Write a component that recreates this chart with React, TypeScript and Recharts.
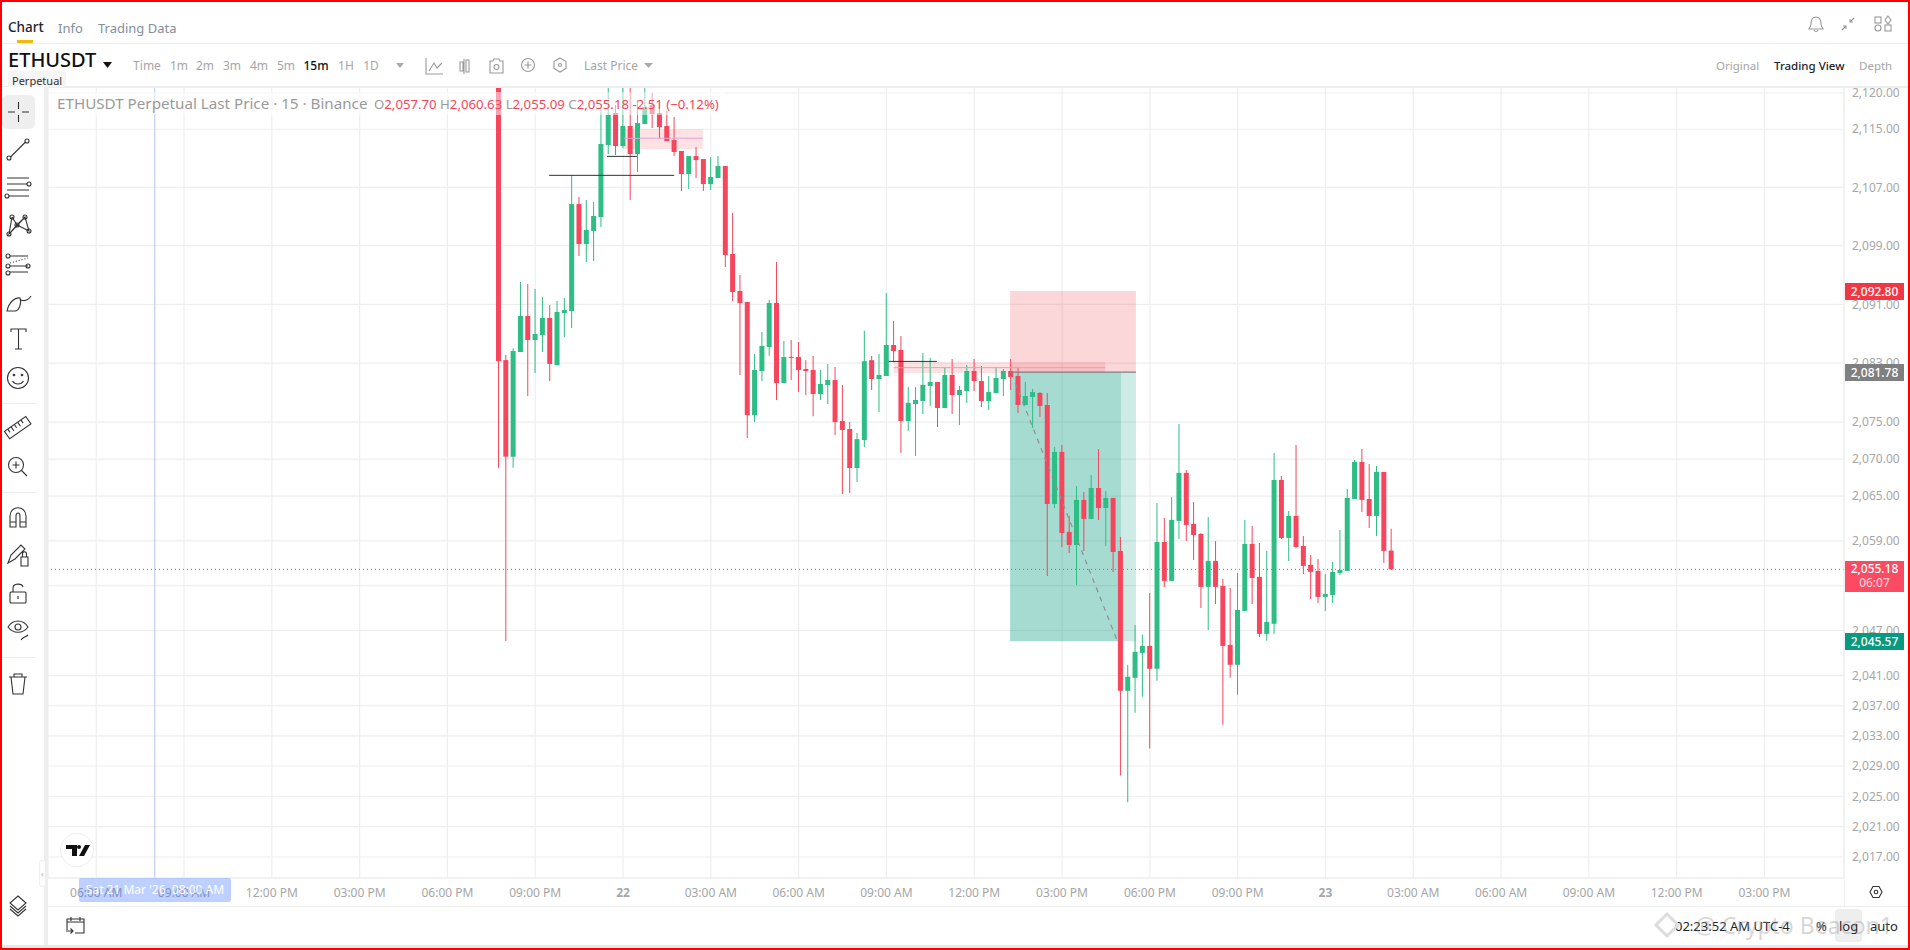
import { ComposedChart, Bar, Cell, XAxis, YAxis, CartesianGrid, ReferenceArea, ReferenceLine } from "recharts";

const UP = "#2ebd85";
const DOWN = "#f6465d";
const FONT = "'Noto Sans', sans-serif";

// 15m candles
const opens = [
  2128, 2083.4, 2070.33, 2084.5, 2089.41, 2086.14, 2086.82, 2089.14, 2082.74, 2089.81,
  2090.08, 2104.7, 2099.23, 2101.02, 2102.93, 2112.82, 2117.24, 2112.68, 2115.44, 2111.58,
  2115.72, 2118.34, 2117.24, 2115.44, 2113.51, 2112, 2108.83, 2111.3, 2110.89, 2107.45,
  2108.28, 2109.93, 2097.87, 2092.81, 2091.32, 2075.94, 2081.93, 2085.18, 2091.18, 2080.3,
  2083.85, 2083.82, 2082.2, 2082.07, 2078.8, 2080.03, 2080.7, 2075.15, 2074.07, 2068.8,
  2072.58, 2083.4, 2080.84, 2081.25, 2085.46, 2084.78, 2075.15, 2077.45, 2077.86, 2079.9,
  2080.43, 2076.91, 2081.39, 2078.67, 2079.21, 2081.93, 2080.57, 2077.86, 2078.94, 2080.84,
  2081.93, 2081.25, 2077.31, 2078.4, 2078.94, 2077.31, 2063.96, 2070.97, 2060.2, 2058.45,
  2064.5, 2061.95, 2066.11, 2063.42, 2064.77, 2057.65, 2038.97, 2040.7, 2044.02, 2044.95,
  2041.9, 2058.85, 2053.63, 2061.68, 2068.14, 2061.28, 2059.93, 2052.83, 2056.31, 2052.96,
  2045.08, 2042.43, 2049.62, 2058.59, 2054.17, 2046.55, 2047.89, 2067.2, 2059.39, 2062.35,
  2058.32, 2055.77, 2054.97, 2051.49, 2051.75, 2054.7, 2054.97, 2064.63, 2069.62, 2064.63,
  2062.35, 2068.27, 2057.7,
];
const highs = [
  2130, 2084.1, 2085, 2094.04, 2093.77, 2093.09, 2091.99, 2090.91, 2091.45, 2091.86,
  2108.7, 2105.67, 2105.26, 2104.98, 2117.93, 2122, 2118.34, 2122, 2122, 2119.03,
  2121, 2120, 2119.03, 2117.51, 2116.68, 2112, 2111.3, 2112.55, 2110.89, 2111.16,
  2111.3, 2109.93, 2103.48, 2095, 2091.32, 2084.23, 2087.24, 2091.59, 2096.77, 2086,
  2086.14, 2085.87, 2083.4, 2083.96, 2082.07, 2082.88, 2082.47, 2080.03, 2075, 2073.53,
  2087.38, 2083.96, 2084.23, 2092.54, 2088.73, 2086.69, 2079.75, 2079.75, 2084.37, 2083.7,
  2080.43, 2082.34, 2083.55, 2079.9, 2082.74, 2083.55, 2082.61, 2081.25, 2082.47, 2082.2,
  2083.55, 2082.47, 2080.43, 2079.48, 2079.07, 2078.94, 2071.64, 2071.91, 2062.35, 2066.38,
  2065.58, 2067.87, 2071.37, 2065.71, 2064.77, 2059.52, 2042.43, 2047.75, 2046.42, 2052.02,
  2064.1, 2062.08, 2064.9, 2074.73, 2068.54, 2064.23, 2060.06, 2062.22, 2058.99, 2053.9,
  2052.69, 2054.7, 2061.81, 2061, 2058.72, 2057.65, 2070.83, 2067.73, 2063.01, 2071.91,
  2059.66, 2057.11, 2056.58, 2054.57, 2056.17, 2060.47, 2065.98, 2069.89, 2071.37, 2069.35,
  2069.08, 2068.27, 2060.63,
];
const lows = [
  2068.85, 2045.6, 2068.85, 2084.5, 2078.53, 2081.66, 2084.5, 2080.57, 2082.74, 2086.55,
  2087.78, 2097.6, 2096.77, 2096.91, 2101.56, 2111.58, 2111.44, 2112.37, 2105.26, 2109.1,
  2115.72, 2115.16, 2113.79, 2113.37, 2111.3, 2106.5, 2106.77, 2108.28, 2106.5, 2106.63,
  2108.28, 2096.1, 2091.45, 2081.39, 2072.85, 2075, 2080.57, 2084, 2078, 2080.3,
  2080.7, 2079.07, 2078.67, 2075.8, 2078, 2077.45, 2073.25, 2065.3, 2065.44, 2066.9,
  2071.64, 2079.35, 2076.37, 2081.25, 2083.13, 2070.83, 2073.8, 2070.43, 2076.1, 2077.18,
  2074.34, 2076.91, 2076.1, 2074.6, 2077.6, 2079.21, 2077.05, 2076.64, 2078.94, 2078.53,
  2079.35, 2076.23, 2077.31, 2074.2, 2075.7, 2054.3, 2063.42, 2058.18, 2057.38, 2053.1,
  2057.65, 2061.95, 2061.81, 2058.32, 2054.84, 2027.75, 2024.2, 2036.07, 2038.18, 2031.3,
  2040.3, 2052.83, 2053.63, 2059.25, 2058.99, 2056.44, 2050.02, 2047.08, 2050.55, 2034.46,
  2040.7, 2038.45, 2049.62, 2050.55, 2046.15, 2045.62, 2046.55, 2059.25, 2056.31, 2058.05,
  2054.57, 2051.22, 2050.69, 2049.62, 2050.69, 2054.43, 2054.97, 2064.63, 2062.87, 2060.74,
  2059.66, 2056.04, 2055.09,
];
const closes = [
  2083.27, 2070.33, 2084.64, 2089.41, 2086.14, 2086.96, 2089.14, 2082.88, 2089.95, 2090.22,
  2104.7, 2099.23, 2101.15, 2103.07, 2112.96, 2116.96, 2112.68, 2115.44, 2111.58, 2115.85,
  2118.1, 2117.1, 2115.3, 2113.37, 2111.86, 2108.83, 2111.3, 2110.75, 2107.45, 2108.42,
  2109.93, 2097.73, 2092.67, 2091.18, 2075.94, 2082.07, 2085.32, 2091.18, 2080.3, 2083.82,
  2083.7, 2082.07, 2081.93, 2078.8, 2080.16, 2080.7, 2075, 2073.94, 2068.8, 2072.7,
  2083.26, 2080.84, 2081.39, 2085.46, 2084.64, 2075.15, 2077.6, 2078, 2080.03, 2080.43,
  2076.91, 2081.39, 2078.67, 2079.35, 2081.93, 2080.57, 2077.86, 2079.07, 2080.98, 2081.93,
  2081.12, 2077.31, 2078.53, 2079.07, 2077.18, 2063.96, 2070.97, 2060.06, 2058.45, 2064.5,
  2061.95, 2066.11, 2063.42, 2064.77, 2057.51, 2038.97, 2040.84, 2044.15, 2044.95, 2041.9,
  2058.85, 2053.63, 2061.81, 2068.14, 2061.14, 2059.79, 2052.83, 2056.31, 2052.83, 2044.95,
  2042.43, 2049.75, 2058.59, 2054.03, 2046.55, 2048.15, 2067.2, 2059.39, 2062.35, 2058.18,
  2055.64, 2054.84, 2051.49, 2051.89, 2054.84, 2055.1, 2064.77, 2069.62, 2064.5, 2062.35,
  2068.27, 2057.65, 2055.18,
];

const priceTicks = [2120, 2115, 2107, 2099, 2091, 2083, 2075, 2070, 2065, 2059, 2053, 2047, 2041, 2037, 2033, 2029, 2025, 2021, 2017];
const timeTicks = [-55, -43, -31, -19, -7, 5, 17, 29, 41, 53, 65, 77, 89, 101, 113, 125, 137, 149, 161, 173];
const timeLabels = [
  "06:00 AM", "09:00 AM", "12:00 PM", "03:00 PM", "06:00 PM", "09:00 PM", "22", "03:00 AM", "06:00 AM", "09:00 AM",
  "12:00 PM", "03:00 PM", "06:00 PM", "09:00 PM", "23", "03:00 AM", "06:00 AM", "09:00 AM", "12:00 PM", "03:00 PM",
];
const timeframes = ["Time", "1m", "2m", "3m", "4m", "5m", "15m", "1H", "1D"];
const timeframeCenters = [147, 179, 205, 232, 259, 286, 316, 346, 371];

const data = opens.map((open, i) => ({
  idx: i,
  wick: [lows[i], highs[i]],
  body: [Math.min(open, closes[i]), Math.max(open, closes[i])],
  up: closes[i] >= open,
}));

const Txt = ({ x, y, c = "#9a9a9a", s = 12, w = 400, anchor = "left", children }: any) => (
  <div
    style={{
      position: "absolute",
      left: x,
      top: y,
      transform: anchor === "center" ? "translate(-50%,-50%)" : "translateY(-50%)",
      color: c,
      fontSize: s,
      fontWeight: w,
      fontFamily: FONT,
      whiteSpace: "pre",
      lineHeight: 1,
    }}
  >
    {children}
  </div>
);

const Box = ({ x, y, w, h, bg, r = 0 }: any) => (
  <div style={{ position: "absolute", left: x, top: y, width: w, height: h, background: bg, borderRadius: r }} />
);

const Badge = ({ y, h, bg, label, sub }: any) => (
  <div style={{ position: "absolute", left: 1845, top: y, width: 59, height: h, background: bg, fontFamily: FONT, fontSize: 12, fontWeight: 500, color: "#fff", textAlign: "center", lineHeight: sub ? "14px" : h + "px" }}>
    {sub ? <div style={{ paddingTop: 1 }}>{label}<br /><span style={{ opacity: 0.7 }}>{sub}</span></div> : label}
  </div>
);

function ToolIcons() {
  return (
    <svg width={1910} height={950} style={{ position: "absolute", left: 0, top: 0, pointerEvents: "none" }}>
      <g fill="none" stroke="#333" strokeWidth={1.1}>
        {/* crosshair */}
        <path d="M8 112H15M22 112H29M18.500 102V109M18.500 115V122" />
        {/* trend line */}
        <circle cx={9} cy={158} r={2} /><circle cx={27} cy={141} r={2} /><path d="M10.500 157L25.500 142" />
        {/* parallel */}
        <path d="M7 178H29M7 184H27M7 190H29M9 196H29" /><circle cx={29} cy={184} r={2} /><circle cx={7} cy={196} r={2} />
        {/* pattern */}
        <path d="M12 217L9 234L17 225L29 231L25 217L17 225L12 217M9 234L25 217" />
        <circle cx={12} cy={217} r={2} /><circle cx={25} cy={217} r={2} /><circle cx={9} cy={234} r={2} /><circle cx={17} cy={225} r={2} /><circle cx={29} cy={231} r={2} />
        {/* fib */}
        <path d="M10 256H28M10 266H28M10 272H28" /><path d="M10 263L28 258" strokeDasharray="1 2" />
        <circle cx={8} cy={256} r={2} /><circle cx={8} cy={266} r={2} /><circle cx={8} cy={273} r={2} /><circle cx={28} cy={266} r={2} />
        {/* brush */}
        <path d="M7 311C9 302 15 297 20 298C22 303 19 311 15 311ZM21 300C26 302 29 299 31 296" />
        {/* text */}
        <path d="M11 332V329H26V332M18.500 329V349M15 349H22" />
        {/* smiley */}
        <circle cx={18} cy={378} r={10.500} /><circle cx={14} cy={375} r={0.8} /><circle cx={22} cy={375} r={0.8} /><path d="M12.500 381C15 385 21 385 23.500 381" />
        {/* ruler */}
        <g transform="rotate(-35 18 428)"><rect x={5} y={423} width={26} height={9} /><path d="M9 423V427M13 423V428M17 423V427M21 423V428M25 423V427" /></g>
        {/* zoom */}
        <circle cx={16} cy={465} r={7.500} /><path d="M12.500 465H19.500M16 461.500V468.500M21.500 470.500L27 476" />
        {/* magnet */}
        <path d="M10 527V516C10 505 26 505 26 516V527H20V516C20 512 16 512 16 516V527ZM10 522H16M20 522H26" />
        {/* pencil lock */}
        <path d="M8 563L11 555L21 545L25 549L15 559ZM21 557H28V566H21ZM22.500 557V554C22.500 551 26.500 551 26.500 554V557" />
        {/* lock */}
        <rect x={10} y={592} width={16} height={11} rx={1} /><path d="M13 592V588C13 583 22 583 23 587M18 596V599" />
        {/* eye */}
        <path d="M8 627C13 619 23 619 28 627C23 634 13 634 8 627Z" /><circle cx={18} cy={627} r={3} /><path d="M21 640C23 637 26 637 28 635" />
        {/* trash */}
        <path d="M9 677H27M14 677V674H22V677M11 677L13 694H23L25 677" />
        {/* layers */}
        <path d="M18 896L26 903L18 910L10 903ZM10 906L18 913L26 906M10 909L18 916L26 909" />
        {/* calendar */}
        <path d="M67 930V919H84V933H75M71 917V921M80 917V921M67 922H84M66 931H73M70.500 928.500L73 931L70.500 933.500" />
        {/* scale settings */}
        <path d="M1870 892L1873 886.500H1879L1882 892L1879 897.500H1873Z" /><circle cx={1876} cy={892} r={1.800} />
      </g>
      <g fill="none" stroke="#999" strokeWidth={1.1}>
        <path d="M426 58V74H443M429 71L434 63L437 68L442 63" />
        <path d="M460 62H463V71H460ZM466 60H469V72H466ZM464 59V74" />
        <path d="M490 61H493L494 59H499L500 61H503V73H490Z" /><circle cx={496.500} cy={67} r={2.500} />
        <circle cx={528} cy={65} r={6.500} /><path d="M524.500 65H531.500M528 61.500V68.500" />
        <path d="M560 58L566 61.500V68.500L560 72L554 68.500V61.500Z" /><circle cx={560} cy={65} r={1.500} />
        <path d="M1816 17C1812 17 1811 20 1811 24C1811 27 1809 28 1809 29H1823C1823 28 1821 27 1821 24C1821 20 1820 17 1816 17ZM1814 30C1815 32 1817 32 1818 30" />
        <path d="M1842 30L1846 26M1846 29V26H1843M1854 18L1850 22M1850 19V22H1853" />
        <rect x={1875} y={17} width={6} height={6} /><path d="M1888 16L1891 20L1888 24L1885 20Z" /><circle cx={1878} cy={28} r={3} /><rect x={1885} y={25} width={6} height={6} />
      </g>
      <path d="M103 62H112L107.500 68Z" fill="#111" />
      <path d="M396 63H404L400 68Z" fill="#aaa" />
      <path d="M644 63H653L648.500 68Z" fill="#aaa" />
      <circle cx={77} cy={850} r={16.500} fill="#fff" stroke="#eee" />
      <path d="M66 845H77V856H72V849H66ZM79 845A2 2 0 1 0 79 849A2 2 0 1 0 79 845M85 845H90L84 856H79Z" fill="#111" />
      {/* watermark */}
      <path d="M1667 914L1678 925L1667 936L1656 925Z" fill="none" stroke="#ddd" strokeWidth={3} />
    </svg>
  );
}

export default function App() {
  return (
    <div style={{ position: "absolute", left: 0, top: 0, width: 1910, height: 950, background: "#fff", overflow: "hidden" }}>
      <ComposedChart width={1910} height={950} data={data} margin={{ top: 87, right: 2, bottom: 44, left: 48 }}>
        <CartesianGrid stroke="#eeeeee" strokeWidth={1.200} />
        <XAxis
          xAxisId={0}
          type="number"
          dataKey="idx"
          domain={[-61.59, 183.87]}
          allowDataOverflow
          ticks={timeTicks}
          interval={0}
          height={28}
          stroke="#eeeeee"
          tickLine={false}
          tick={(p: any) => {
            const label = timeLabels[timeTicks.indexOf(p.payload.value)];
            const bold = label.length < 3;
            return (
              <text x={p.x} y={p.y + 7} dy="0.35em" textAnchor="middle" fontSize={12} fontFamily={FONT} fontWeight={bold ? 700 : 400} fill="#a6a6a6">
                {label}
              </text>
            );
          }}
        />
        <XAxis xAxisId={1} type="number" dataKey="idx" domain={[-61.59, 183.87]} allowDataOverflow hide />
        <YAxis
          orientation="right"
          scale="log"
          domain={[2014.24, 2120.83]}
          allowDataOverflow
          ticks={priceTicks}
          interval={0}
          width={64}
          stroke="#eeeeee"
          tickLine={false}
          tickMargin={2}
          tick={{ fontSize: 12, fontFamily: FONT, fill: "#a6a6a6" }}
          tickFormatter={(v: number) => v.toLocaleString("en-US", { minimumFractionDigits: 2 })}
        />

        {/* position boxes */}
        <ReferenceArea x1={69.9} x2={87.1} y1={2092.8} y2={2081.78} fill="#f23645" fillOpacity={0.2} stroke="none" />
        <ReferenceArea x1={69.9} x2={87.1} y1={2081.78} y2={2045.57} fill="#089981" fillOpacity={0.2} stroke="none" />
        <ReferenceArea x1={69.9} x2={85.05} y1={2081.78} y2={2045.57} fill="#089981" fillOpacity={0.2} stroke="none" />
        <ReferenceArea x1={54} x2={82.9} y1={2083.13} y2={2081.66} fill="#f23645" fillOpacity={0.15} stroke="none" />
        <ReferenceArea x1={17.1} x2={27.9} y1={2115} y2={2112.27} fill="#f23645" fillOpacity={0.15} stroke="none" />
        <ReferenceLine segment={[{ x: 17.1, y: 2113.75 }, { x: 27.9, y: 2113.75 }]} stroke="#dca8cf" strokeWidth={1} />
        <ReferenceLine segment={[{ x: 54, y: 2082.38 }, { x: 82.9, y: 2082.38 }]} stroke="#cfa8c8" strokeWidth={1} />
        <ReferenceLine segment={[{ x: 69.9, y: 2081.78 }, { x: 87.1, y: 2081.78 }]} stroke="#808080" strokeWidth={1.200} />
        <ReferenceLine segment={[{ x: 70.6, y: 2080.3 }, { x: 84.5, y: 2045.75 }]} stroke="#8f8f8f" strokeWidth={1.200} strokeDasharray="5 5" />
        <ReferenceLine x={-47} stroke="#b4c6f5" strokeWidth={1} />
        <ReferenceLine y={2055.18} stroke={DOWN} strokeWidth={1} strokeDasharray="1 3" />

        <Bar xAxisId={1} dataKey="wick" barSize={1} isAnimationActive={false}>
          {data.map((d) => (
            <Cell key={d.idx} fill={d.up ? UP : DOWN} />
          ))}
        </Bar>
        <Bar xAxisId={0} dataKey="body" barSize={5} isAnimationActive={false}>
          {data.map((d) => (
            <Cell key={d.idx} fill={d.up ? UP : DOWN} />
          ))}
        </Bar>

        <ReferenceLine segment={[{ x: 14.8, y: 2111.26 }, { x: 18.9, y: 2111.26 }]} stroke="#333" strokeWidth={1} />
        <ReferenceLine segment={[{ x: 6.9, y: 2108.65 }, { x: 24, y: 2108.65 }]} stroke="#333" strokeWidth={1} />
        <ReferenceLine segment={[{ x: 53.3, y: 2083.23 }, { x: 59.9, y: 2083.23 }]} stroke="#333" strokeWidth={1} />
      </ComposedChart>

      {/* legend over the candles */}
      <Box x={50} y={92} w={676} h={23} bg="rgba(255,255,255,0.5)" />
      <Txt x={57} y={104} s={15.200} c="#9a9a9a">ETHUSDT Perpetual Last Price · 15 · Binance</Txt>
      <div style={{ position: "absolute", left: 374, top: 96, fontFamily: FONT, fontSize: 13.200, color: DOWN, whiteSpace: "pre", lineHeight: "16px" }}>
        <span style={{ color: "#9a9a9a" }}>O</span>2,057.70 <span style={{ color: "#9a9a9a" }}>H</span>2,060.63 <span style={{ color: "#9a9a9a" }}>L</span>2,055.09 <span style={{ color: "#9a9a9a" }}>C</span>2,055.18 -2.51 (−0.12%)
      </div>

      {/* header */}
      <Box x={0} y={0} w={1910} h={87} bg="#fff" />
      <Box x={0} y={43} w={1910} h={1} bg="#eeeeee" />
      <Box x={0} y={86} w={1910} h={1.500} bg="#eeeeee" />
      <Txt x={8} y={28} s={13.500} c="#1e2329" w={500}>Chart</Txt>
      <Txt x={58} y={28} s={13} c="#848e9c">Info</Txt>
      <Txt x={98} y={28} s={13} c="#848e9c">Trading Data</Txt>
      <Box x={17} y={40} w={16} h={3} bg="#f0b90b" />
      <Txt x={8} y={60} s={20} c="#111" w={500}>ETHUSDT</Txt>
      <Box x={8} y={71} w={58} h={16} bg="#f5f5f5" r={2} />
      <Txt x={12} y={80} s={11} c="#333">Perpetual</Txt>
      {timeframes.map((t, i) => (
        <Txt key={t} x={timeframeCenters[i]} y={66} s={12} anchor="center" c={t === "15m" ? "#111" : "#a6a6a6"} w={t === "15m" ? 500 : 400}>
          {t}
        </Txt>
      ))}
      <Txt x={584} y={66} s={12} c="#a6a6a6">Last Price</Txt>
      <Txt x={1716} y={66} s={11.500} c="#a6a6a6">Original</Txt>
      <Txt x={1774} y={66} s={11.500} c="#1e2329" w={500}>Trading View</Txt>
      <Txt x={1859} y={66} s={11.500} c="#a6a6a6">Depth</Txt>

      {/* left rail */}
      <Box x={0} y={87} w={44} h={863} bg="#fff" />
      <Box x={44} y={87} w={4} h={861} bg="#eeeeee" />
      <Box x={2} y={95} w={33} h={34} bg="#eeeeee" r={6} />
      <Box x={2} y={403} w={34} h={1} bg="#eeeeee" />
      <Box x={2} y={492} w={34} h={1} bg="#eeeeee" />
      <Box x={2} y={657} w={34} h={1} bg="#eeeeee" />
      <div style={{ position: "absolute", left: 39, top: 860, width: 7, height: 27, background: "#fff", border: "1px solid #eee", borderRadius: 3, boxSizing: "border-box", color: "#aaa", fontSize: 9, lineHeight: "25px", textAlign: "center", fontFamily: FONT }}>‹</div>

      {/* crosshair time label */}
      <div style={{ position: "absolute", left: 79, top: 878, width: 152, height: 24, background: "rgba(41,98,255,0.3)", color: "#fff", fontFamily: FONT, fontSize: 12, lineHeight: "24px", textAlign: "center", borderRadius: 2, whiteSpace: "pre" }}>Sat 21 Mar '26  08:00 AM</div>

      {/* bottom bars */}
      <Box x={1844} y={878} w={1} h={28} bg="#eeeeee" />
      <Box x={48} y={906} w={1862} h={1} bg="#eeeeee" />
      <Box x={0} y={945} w={1910} h={3} bg="#e8e8e8" />
      <Box x={1835} y={909} w={27} h={33} bg="#eeeeee" r={4} />
      <Txt x={1675} y={926} s={13} c="#1e2329">02:23:52 AM UTC-4</Txt>
      <Txt x={1816} y={926} s={13} c="#1e2329">%</Txt>
      <Txt x={1839} y={926} s={13} c="#1e2329">log</Txt>
      <Txt x={1870} y={926} s={13} c="#1e2329">auto</Txt>
      <Txt x={1695} y={925} s={23} c="rgba(150,150,150,0.4)">@ Crypto Beacon1</Txt>

      {/* price badges */}
      <Badge y={283} h={17} bg="#f23645" label="2,092.80" />
      <Badge y={364} h={17} bg="#7f7f7f" label="2,081.78" />
      <Badge y={561} h={31} bg="#fb4a62" label="2,055.18" sub="06:07" />
      <Badge y={633} h={17} bg="#089981" label="2,045.57" />

      <ToolIcons />
      <div style={{ position: "absolute", left: 0, top: 0, width: 1910, height: 950, border: "2px solid #ff0000", boxSizing: "border-box", pointerEvents: "none" }} />
    </div>
  );
}
